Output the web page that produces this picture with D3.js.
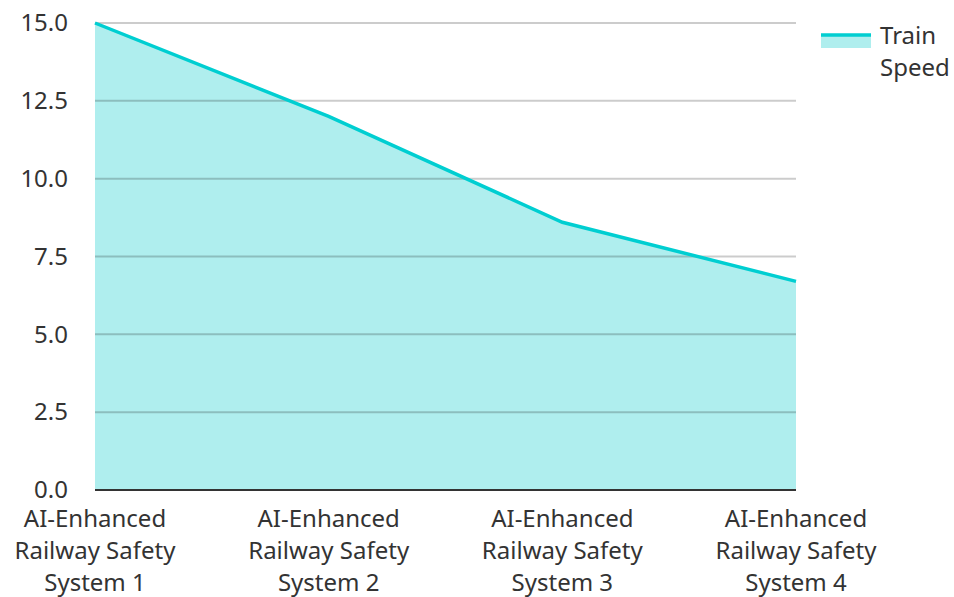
<!DOCTYPE html>
<html>
<head>
<meta charset="utf-8">
<script src="https://cdn.jsdelivr.net/npm/d3@7"></script>
<style>
  body { margin: 0; background: #fff; }
  text { font-family: "Noto Sans", "Open Sans", sans-serif; fill: #333; }
</style>
</head>
<body>
<div id="chart"></div>
<script>
// categories + values
const categories = [
  'AI-Enhanced Railway Safety System 1',
  'AI-Enhanced Railway Safety System 2',
  'AI-Enhanced Railway Safety System 3',
  'AI-Enhanced Railway Safety System 4'
];
const trainSpeed = [15.0, 12.0, 8.6, 6.7];
const yTicks = [0, 2.5, 5, 7.5, 10, 12.5, 15];
const seriesName = 'Train Speed';

const width = 954,
      height = 597,
      margin = { top: 23, right: 158, bottom: 107, left: 95 };

const svg = d3.select('#chart')
  .append('svg')
  .attr('width', width)
  .attr('height', height);

const x = d3.scalePoint()
  .domain(categories)
  .range([margin.left, width - margin.right]);

const y = d3.scaleLinear()
  .domain([0, 15])
  .range([height - margin.bottom, margin.top]);

const data = categories.map((c, i) => ({ cat: c, v: trainSpeed[i] }));

// area under the line
svg.append('path')
  .datum(data)
  .attr('fill', '#afeeee')
  .attr('d', d3.area()
    .x(d => x(d.cat))
    .y0(y(0))
    .y1(d => y(d.v)));

// grid lines drawn over the fill
svg.append('g')
  .selectAll('line')
  .data(yTicks.filter(t => t > 0))
  .enter()
  .append('line')
  .attr('x1', margin.left)
  .attr('x2', width - margin.right)
  .attr('y1', d => y(d))
  .attr('y2', d => y(d))
  .attr('stroke', '#000')
  .attr('stroke-opacity', 0.2)
  .attr('stroke-width', 2);

svg.append('path')
  .datum(data)
  .attr('fill', 'none')
  .attr('stroke', '#00ced1')
  .attr('stroke-width', 3.5)
  .attr('d', d3.line()
    .x(d => x(d.cat))
    .y(d => y(d.v)));

// y axis labels
const yAxis = svg.append('g')
  .attr('transform', 'translate(' + margin.left + ',0)')
  .call(d3.axisLeft(y).tickValues(yTicks).tickFormat(d3.format('.1f')).tickSize(0).tickPadding(27));
yAxis.select('.domain').remove();
yAxis.selectAll('text')
  .attr('font-size', 24)
  .attr('fill', '#444')
  .style('font-family', '"Noto Sans", sans-serif');

// x axis baseline
svg.append('line')
  .attr('x1', margin.left)
  .attr('x2', width - margin.right)
  .attr('y1', y(0))
  .attr('y2', y(0))
  .attr('stroke', '#333')
  .attr('stroke-width', 2);

// wrapped category labels
const xLabels = svg.append('g');
categories.forEach(c => {
  const lines = ['AI-Enhanced', 'Railway Safety', c.replace('AI-Enhanced Railway Safety ', '')];
  const t = xLabels.append('text')
    .attr('text-anchor', 'middle')
    .attr('font-size', 24)
    .attr('fill', '#333');
  lines.forEach((ln, i) => {
    t.append('tspan')
      .attr('x', x(c))
      .attr('y', 527 + i * 32)
      .text(ln);
  });
});

// legend
const legend = svg.append('g');
legend.append('rect')
  .attr('x', 821).attr('y', 34)
  .attr('width', 50).attr('height', 14)
  .attr('fill', '#afeeee');
legend.append('line')
  .attr('x1', 821).attr('x2', 871)
  .attr('y1', 35).attr('y2', 35)
  .attr('stroke', '#00ced1')
  .attr('stroke-width', 3.5);
const lt = legend.append('text')
  .attr('font-size', 24)
  .attr('fill', '#333');
seriesName.split(' ').forEach((w, i) => {
  lt.append('tspan').attr('x', 880).attr('y', 44 + i * 32).text(w);
});
</script>
</body>
</html>
